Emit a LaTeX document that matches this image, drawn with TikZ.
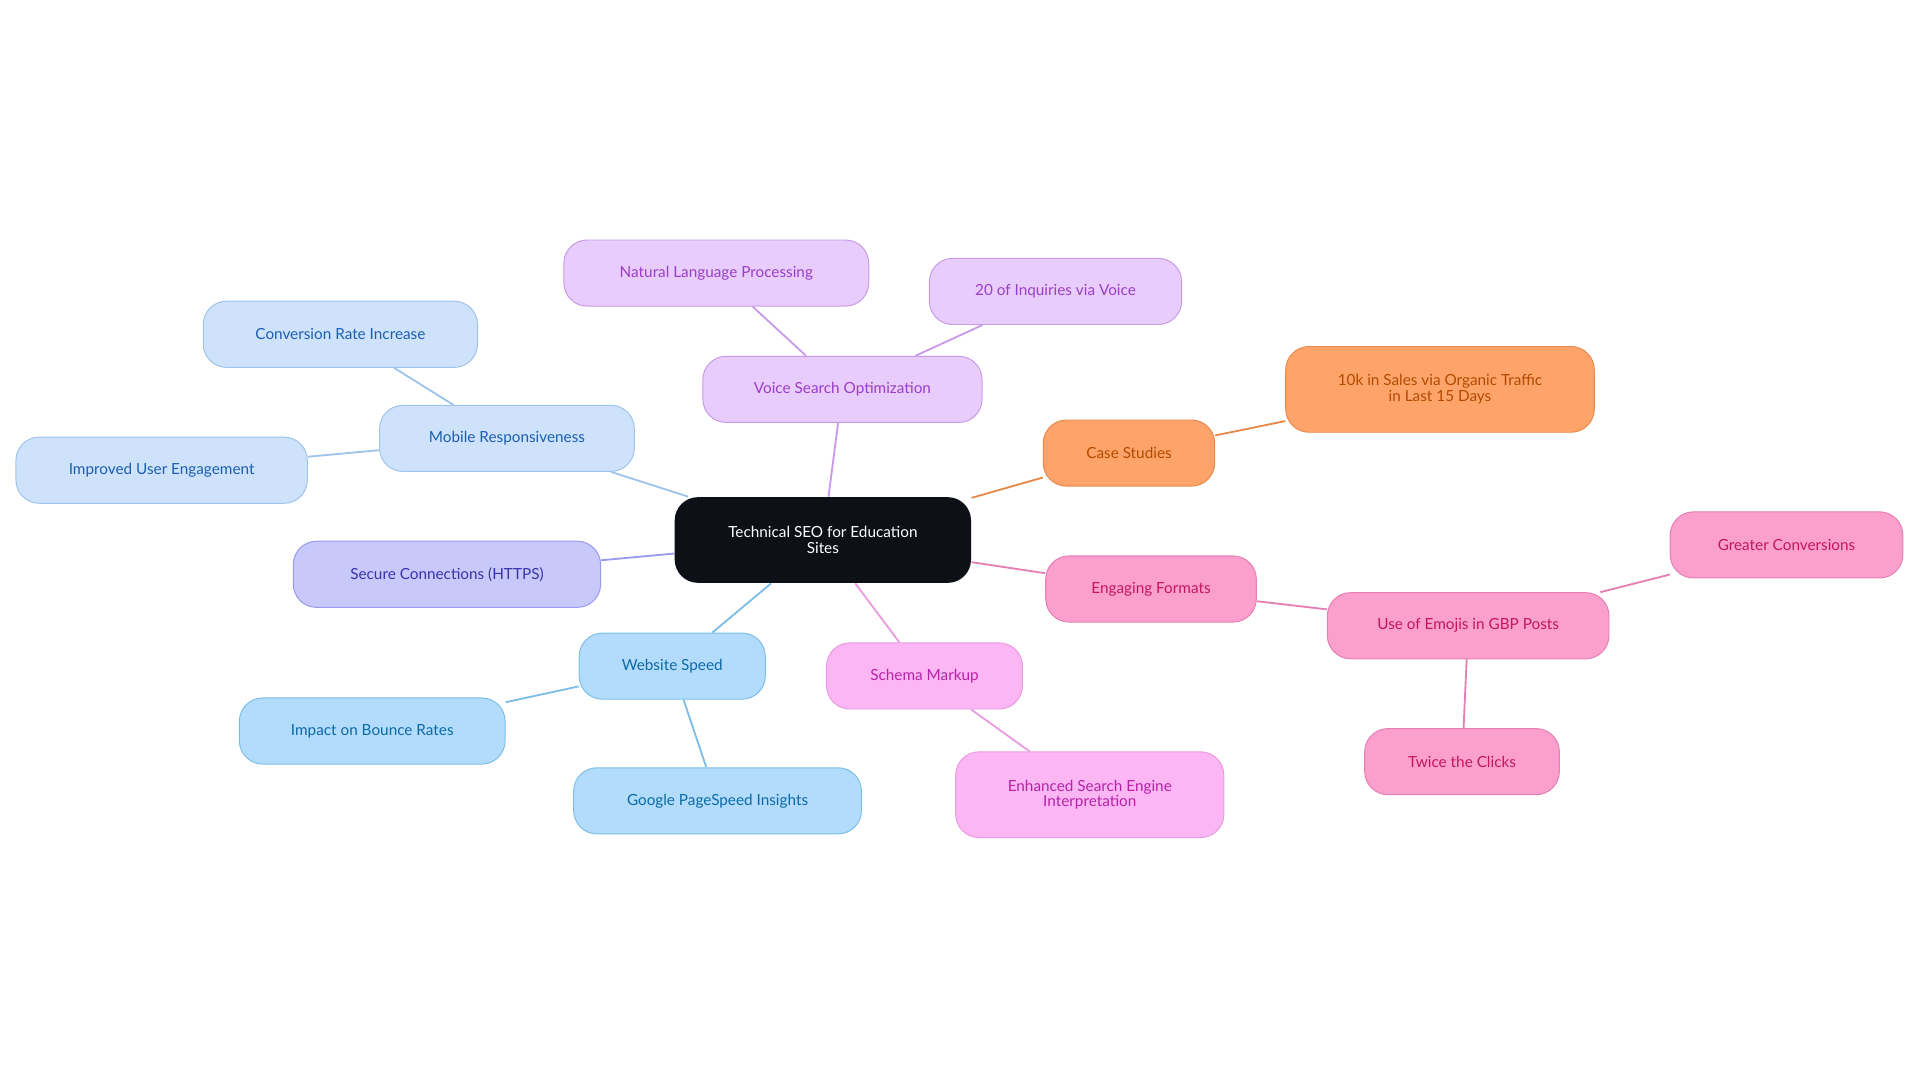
\documentclass[tikz,border=0pt]{standalone}
\usepackage{fontspec}
\setmainfont{Lato}
\usetikzlibrary{backgrounds}
\definecolor{cbl}{HTML}{CFE2FB}\definecolor{dbl}{HTML}{9EC3EC}\definecolor{tbl}{HTML}{1A5FB4}
\definecolor{cin}{HTML}{C8C8FA}\definecolor{din}{HTML}{9A9AEE}\definecolor{tin}{HTML}{3535A8}
\definecolor{csk}{HTML}{B3DCFC}\definecolor{dsk}{HTML}{7CBEE6}\definecolor{tsk}{HTML}{0B6AA8}
\definecolor{cvi}{HTML}{E8CDFC}\definecolor{dvi}{HTML}{C99AEB}\definecolor{tvi}{HTML}{9B3DC8}
\definecolor{cor}{HTML}{FEA46B}\definecolor{dor}{HTML}{E8894A}\definecolor{tor}{HTML}{B34A00}
\definecolor{cpk}{HTML}{FB9FCD}\definecolor{dpk}{HTML}{E67FB4}\definecolor{tpk}{HTML}{C2185B}
\definecolor{cmg}{HTML}{FCB6F4}\definecolor{dmg}{HTML}{E99BE0}\definecolor{tmg}{HTML}{B822A8}
\definecolor{dark}{HTML}{0D1117}
\begin{document}
\begin{tikzpicture}[x=1pt,y=-1pt,
 box/.style={rounded corners=19pt,minimum height=54pt,align=center,font=\fontsize{12.5}{13}\selectfont,line width=0.8pt,inner sep=2pt},
 bl/.style={box,fill=cbl,draw=dbl,text=tbl},
 ind/.style={box,fill=cin,draw=din,text=tin},
 sk/.style={box,fill=csk,draw=dsk,text=tsk},
 vi/.style={box,fill=cvi,draw=dvi,text=tvi},
 orr/.style={box,fill=cor,draw=dor,text=tor},
 pk/.style={box,fill=cpk,draw=dpk,text=tpk},
 mg/.style={box,fill=cmg,draw=dmg,text=tmg},
 ln/.style={line width=1.5pt}]
\useasboundingbox (0,0) rectangle (1568,884);
\node[box,fill=dark,text=white,minimum width=242pt,minimum height=70pt] (c) at (672,441) {Technical SEO for Education\\Sites};
\node[bl,minimum width=208pt] (mr) at (414,358) {Mobile Responsiveness};
\node[bl,minimum width=224pt] (cr) at (278,273) {Conversion Rate Increase};
\node[bl,minimum width=238pt] (iu) at (132,384) {Improved User Engagement};
\node[ind,minimum width=251pt] (sc) at (365,469) {Secure Connections (HTTPS)};
\node[sk,minimum width=152pt] (ws) at (549,544) {Website Speed};
\node[sk,minimum width=217pt] (ib) at (304,597) {Impact on Bounce Rates};
\node[sk,minimum width=235pt] (gp) at (586,654) {Google PageSpeed Insights};
\node[vi,minimum width=228pt] (vs) at (688,318) {Voice Search Optimization};
\node[vi,minimum width=249pt] (nl) at (585,223) {Natural Language Processing};
\node[vi,minimum width=206pt] (iv) at (862,238) {20 of Inquiries via Voice};
\node[orr,minimum width=140pt] (cs) at (922,370) {Case Studies};
\node[orr,minimum width=252pt,minimum height=70pt] (ks) at (1176,318) {10k in Sales via Organic Traffic\\in Last 15 Days};
\node[pk,minimum width=172pt] (ef) at (940,481) {Engaging Formats};
\node[pk,minimum width=230pt] (ue) at (1199,511) {Use of Emojis in GBP Posts};
\node[pk,minimum width=190pt] (gc) at (1459,445) {Greater Conversions};
\node[pk,minimum width=159pt] (tc) at (1194,622) {Twice the Clicks};
\node[mg,minimum width=160pt] (sm) at (755,552) {Schema Markup};
\node[mg,minimum width=219pt,minimum height=70pt] (es) at (890,649) {Enhanced Search Engine\\Interpretation};
\begin{pgfonlayer}{background}
\draw[ln,dbl] (c) -- (mr); \draw[ln,dbl] (mr) -- (cr); \draw[ln,dbl] (mr) -- (iu);
\draw[ln,din] (c) -- (sc);
\draw[ln,dsk] (c) -- (ws); \draw[ln,dsk] (ws) -- (ib); \draw[ln,dsk] (ws) -- (gp);
\draw[ln,dvi] (c) -- (vs); \draw[ln,dvi] (vs) -- (nl); \draw[ln,dvi] (vs) -- (iv);
\draw[ln,dor] (c) -- (cs); \draw[ln,dor] (cs) -- (ks);
\draw[ln,dpk] (c) -- (ef); \draw[ln,dpk] (ef) -- (ue); \draw[ln,dpk] (ue) -- (gc); \draw[ln,dpk] (ue) -- (tc);
\draw[ln,dmg] (c) -- (sm); \draw[ln,dmg] (sm) -- (es);
\end{pgfonlayer}
\end{tikzpicture}
\end{document}
